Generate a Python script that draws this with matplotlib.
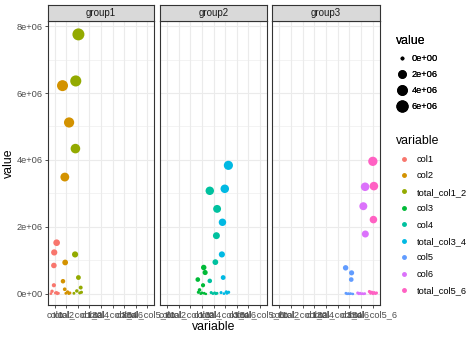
#! /usr/bin/env python3
#
# Faceted jitter plot of value per variable, point size by value.
#

import numpy as np
import matplotlib
matplotlib.use('agg')
import matplotlib.pyplot as plt
from matplotlib.lines import Line2D

plt.rcParams['font.family'] = ['Liberation Sans', 'DejaVu Sans']

##########
## DATA ##
##########

groups = ['group1', 'group2', 'group3']
variables = ['col1', 'col2', 'total_col1_2', 'col3', 'col4', 'total_col3_4',
             'col5', 'col6', 'total_col5_6']
colors = ['#F8766D', '#D39200', '#93AA00', '#00BA38', '#00C19F', '#00B9E3',
          '#619CFF', '#DB72FB', '#FF61C3']

# which group each variable is plotted in
var_group = ['group1', 'group1', 'group1', 'group2', 'group2', 'group2',
             'group3', 'group3', 'group3']

# values
col1 = [1.53e6, 1.24e6, 0.85e6, 0.26e6, 0.08e6, 0.04e6, 0.02e6, 0.01e6, 0.03e6, 0.0]
col2 = [6.22e6, 5.12e6, 3.49e6, 0.94e6, 0.38e6, 0.14e6, 0.06e6, 0.03e6, 0.02e6, 0.01e6]
total_col1_2 = [7.75e6, 6.36e6, 4.34e6, 1.18e6, 0.49e6, 0.19e6, 0.09e6, 0.05e6, 0.03e6, 0.02e6]
col3 = [0.79e6, 0.64e6, 0.43e6, 0.26e6, 0.12e6, 0.05e6, 0.03e6, 0.02e6, 0.01e6, 0.0]
col4 = [3.08e6, 2.54e6, 1.74e6, 0.95e6, 0.39e6, 0.04e6, 0.03e6, 0.02e6, 0.01e6, 0.0]
total_col3_4 = [3.84e6, 3.14e6, 2.14e6, 1.18e6, 0.49e6, 0.06e6, 0.05e6, 0.04e6, 0.02e6, 0.01e6]
col5 = [0.78e6, 0.63e6, 0.43e6, 0.02e6, 0.01e6, 0.01e6, 0.0, 0.0, 0.0, 0.0]
col6 = [3.20e6, 2.62e6, 1.79e6, 0.03e6, 0.02e6, 0.01e6, 0.01e6, 0.0, 0.0, 0.0]
total_col5_6 = [3.96e6, 3.22e6, 2.22e6, 0.07e6, 0.05e6, 0.04e6, 0.03e6, 0.02e6, 0.01e6, 0.0]

# jitter offsets in category units
jit_col1 = [0.15, -0.06, -0.09, -0.09, -0.25, 0.15, 0.3, -0.35, 0.05, 0.2]
jit_col2 = [-0.34, 0.23, -0.14, -0.11, -0.3, -0.15, 0.1, 0.3, -0.05, 0.2]
jit_total12 = [0.04, -0.19, -0.22, -0.25, 0.04, 0.24, -0.1, 0.3, 0.15, -0.35]
jit_col3 = [0.16, 0.28, -0.35, 0.1, -0.2, -0.3, 0.0, 0.2, -0.1, 0.35]
jit_col4 = [-0.32, 0.31, 0.25, 0.16, -0.32, -0.2, 0.1, 0.3, -0.05, 0.2]
jit_total34 = [0.28, -0.03, -0.23, -0.28, -0.17, 0.1, 0.3, -0.35, 0.15, -0.1]
jit_col5 = [-0.33, 0.18, 0.15, -0.3, -0.1, 0.1, 0.3, -0.2, 0.0, 0.25]
jit_col6 = [0.33, 0.18, 0.35, -0.3, -0.1, 0.1, 0.3, -0.2, 0.0, 0.2]
jit_total56 = [-0.01, 0.08, 0.04, -0.3, -0.1, 0.1, 0.3, -0.2, 0.2, 0.0]

values = [col1, col2, total_col1_2, col3, col4, total_col3_4, col5, col6, total_col5_6]
jitters = [jit_col1, jit_col2, jit_total12, jit_col3, jit_col4, jit_total34,
           jit_col5, jit_col6, jit_total56]

size_breaks = [0, 2e6, 4e6, 6e6]
size_labels = ['0e+00', '2e+06', '4e+06', '6e+06']
y_ticks = [0, 2e6, 4e6, 6e6, 8e6]
y_labels = ['0e+00', '2e+06', '4e+06', '6e+06', '8e+06']

##############
## SETTINGS ##
##############

W, H, dpi = 474, 338, 100
tick_size = 6.7
title_size = 8.8
grid_col = '#EBEBEB'
text_col = '#4D4D4D'

all_vals = np.concatenate([np.array(v) for v in values])
vmin, vmax = all_vals.min(), all_vals.max()

def point_size(v):
	# ggplot area scale, range 1..6 -> diameter in px, then pt^2
	v = np.asarray(v, dtype=float)
	d_px = 2.4 + 9.6 * np.sqrt((v - vmin) / (vmax - vmin))
	return (d_px * 72.0 / dpi) ** 2

def px_rect(x0, y0, x1, y1):
	# pixel box (top-left origin) -> figure fraction rect
	return [x0 / W, 1 - y1 / H, (x1 - x0) / W, (y1 - y0) / H]

##############
## Plotting ##
##############

fig = plt.figure(figsize=(W / dpi, H / dpi), dpi=dpi)
panel_x = [(48, 154), (160, 267), (272, 380)]
strip_top, panel_top, panel_bot = 5, 21, 305

xpos = np.arange(1, len(variables) + 1)
for gi, g in enumerate(groups):
	x0, x1 = panel_x[gi]
	ax = fig.add_axes(px_rect(x0, panel_top, x1, panel_bot))
	ax.set_xlim(0.4, len(variables) + 0.6)
	ax.set_ylim(-0.33e6, 8.15e6)
	ax.set_yticks(y_ticks)
	ax.set_yticks([1e6, 3e6, 5e6, 7e6], minor=True)
	ax.set_xticks(xpos)
	ax.set_xticklabels(variables, fontsize=tick_size, color=text_col)
	ax.grid(True, which='major', color=grid_col, linewidth=0.8)
	ax.grid(True, which='minor', axis='y', color=grid_col, linewidth=0.4)
	ax.set_axisbelow(True)
	ax.tick_params(which='minor', length=0)
	ax.tick_params(which='major', length=2.5, width=0.6, color='#333333', pad=1.5)
	for sp in ax.spines.values():
		sp.set_color('#333333')
		sp.set_linewidth(0.8)
	if gi == 0:
		ax.set_yticklabels(y_labels, fontsize=tick_size, color=text_col)
		ax.set_ylabel('value', fontsize=title_size, labelpad=1)
	else:
		ax.set_yticklabels([])
		ax.tick_params(axis='y', length=0)
	if gi == 1:
		ax.set_xlabel('variable', fontsize=title_size, labelpad=1)
	for vi in range(len(variables)):
		if var_group[vi] != g:
			continue
		x = xpos[vi] + np.array(jitters[vi])
		ax.scatter(x, values[vi], s=point_size(values[vi]), color=colors[vi],
				   linewidths=0, zorder=3)
	# strip
	sax = fig.add_axes(px_rect(x0, strip_top, x1, panel_top))
	sax.set_facecolor('#D9D9D9')
	sax.set_xticks([])
	sax.set_yticks([])
	for sp in sax.spines.values():
		sp.set_color('#333333')
		sp.set_linewidth(0.8)
	sax.text(0.5, 0.5, g, ha='center', va='center', fontsize=7, color='#1A1A1A',
			 transform=sax.transAxes)

# size legend
h_size = [Line2D([], [], linestyle='', marker='o', color='black',
				 markersize=np.sqrt(point_size(b))) for b in size_breaks]
leg1 = fig.legend(h_size, size_labels, title='value', loc='upper left',
				  bbox_to_anchor=(388 / W, 1 - 27 / H), frameon=False,
				  fontsize=tick_size, title_fontsize=title_size, alignment='left',
				  labelspacing=0.75, handletextpad=0.4, handlelength=1.2)
fig.add_artist(leg1)

# colour legend
h_col = [Line2D([], [], linestyle='', marker='o', color=c,
				markersize=2.5) for c in colors]
leg2 = fig.legend(h_col, variables, title='variable', loc='upper left',
				  bbox_to_anchor=(388 / W, 1 - 127 / H), frameon=False,
				  fontsize=tick_size, title_fontsize=title_size, alignment='left',
				  labelspacing=0.8, handletextpad=0.6, handlelength=1.6)

fig.savefig('out.png', dpi=dpi)
